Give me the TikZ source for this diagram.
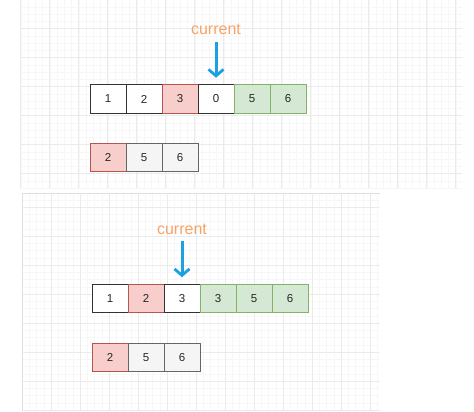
\documentclass[tikz,border=0pt]{standalone}
\usepackage{fontspec}
\setmainfont{Liberation Sans}
\usetikzlibrary{arrows.meta}
\definecolor{minorgrid}{HTML}{F7F7F7}
\definecolor{majorgrid}{HTML}{EBEBEB}
\definecolor{framegray}{HTML}{E0E0E0}
\definecolor{redfill}{HTML}{F8CECC}
\definecolor{redline}{HTML}{B85450}
\definecolor{greenfill}{HTML}{D5E8D4}
\definecolor{greenline}{HTML}{82B366}
\definecolor{grayfill}{HTML}{F5F5F5}
\definecolor{grayline}{HTML}{666666}
\definecolor{curorange}{HTML}{F7A468}
\definecolor{arrowblue}{HTML}{1BA1E2}
\tikzset{
  cell/.style={minimum width=36pt, minimum height=28.5pt, inner sep=0pt, outer sep=0pt,
    line width=1pt, font=\fontsize{11.5}{13}\selectfont, text=black!85},
  wcell/.style={cell, draw=black!80, fill=white},
  rcell/.style={cell, draw=redline, fill=redfill},
  gcell/.style={cell, draw=greenline, fill=greenfill},
  ycell/.style={cell, draw=grayline, fill=grayfill},
  curlabel/.style={inner sep=0pt, anchor=base, text=curorange, font=\fontsize{16}{19}\selectfont},
  curarrow/.style={draw=arrowblue, line width=3pt, -{Straight Barb[length=6.5pt,width=15pt,line width=2.8pt]},
    shorten <=7pt, shorten >=7pt},
  minorline/.style={draw=minorgrid, line width=0.4pt},
  majorline/.style={draw=majorgrid, line width=0.5pt}
}
\begin{document}
\begin{tikzpicture}[x=1pt,y=-1pt]
\useasboundingbox[fill=white] (0,0) rectangle (474,412);
% ---------- panel 1 grid ----------
\begin{scope}
\clip (20,0) rectangle (462,188);
\foreach \k in {0,...,64} {
  \draw[minorline] ({20.7+7.25*\k},0) -- ({20.7+7.25*\k},188);
}
\foreach \k in {-1,...,26} {
  \draw[minorline] (20,{-0.5+7.25*\k}) -- (462,{-0.5+7.25*\k});
}
\foreach \k in {0,...,16} {
  \draw[majorline] ({20.7+29*\k},0) -- ({20.7+29*\k},188);
}
\foreach \k in {0,...,7} {
  \draw[majorline] (20,{-0.5+29*\k}) -- (462,{-0.5+29*\k});
}
\end{scope}
% ---------- panel 2 grid ----------
\begin{scope}
\clip (22,193) rectangle (380,410);
\foreach \k in {0,...,50} {
  \draw[minorline] ({22+7.25*\k},193) -- ({22+7.25*\k},410);
}
\foreach \k in {-2,...,30} {
  \draw[minorline] (22,{207+7.25*\k}) -- (380,{207+7.25*\k});
}
\foreach \k in {0,...,13} {
  \draw[majorline] ({22+29*\k},193) -- ({22+29*\k},410);
}
\foreach \k in {0,...,7} {
  \draw[majorline] (22,{207+29*\k}) -- (380,{207+29*\k});
}
\end{scope}
\draw[framegray, line width=0.8pt] (380,193.4) -- (22.4,193.4) -- (22.4,410);
% ---------- panel 1 ----------
\node[wcell] (a1) at (108,99) {1};
\node[wcell] (a2) at (144,99) {2};
\node[rcell] (a3) at (180,99) {3};
\node[wcell] (a4) at (216,99) {0};
\node[gcell] (a5) at (252,99) {5};
\node[gcell] (a6) at (288,99) {6};
\node[rcell] (b1) at (108,157.5) {2};
\node[ycell] (b2) at (144,157.5) {5};
\node[ycell] (b3) at (180,157.5) {6};
\node[curlabel] (lab1) at (216,35) {current};
\draw[curarrow] (lab1.south) -- (a4.north);
% ---------- panel 2 ----------
\node[wcell] (c1) at (110,298.5) {1};
\node[rcell] (c2) at (146,298.5) {2};
\node[wcell] (c3) at (182,298.5) {3};
\node[gcell] (c4) at (218,298.5) {3};
\node[gcell] (c5) at (254,298.5) {5};
\node[gcell] (c6) at (290,298.5) {6};
\node[rcell] (d1) at (110,357.5) {2};
\node[ycell] (d2) at (146,357.5) {5};
\node[ycell] (d3) at (182,357.5) {6};
\node[curlabel] (lab2) at (182,234) {current};
\draw[curarrow] (lab2.south) -- (c3.north);
\end{tikzpicture}
\end{document}
